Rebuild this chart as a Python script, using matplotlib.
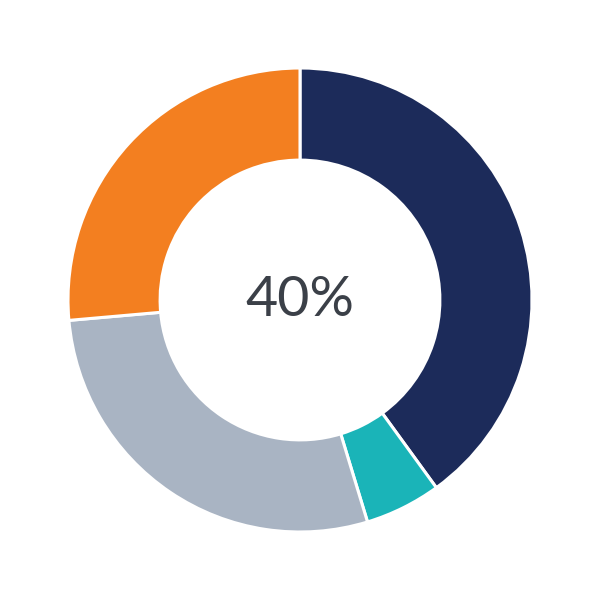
import matplotlib
matplotlib.use("Agg")
import matplotlib.pyplot as plt

labels = ["Navy", "Teal", "Gray", "Orange"]
values = [40, 5.3, 28.3, 26.4]
colors = ["#1c2b5a", "#1ab4b8", "#a9b4c3", "#f37f20"]
center_text = "40%"

fig = plt.figure(figsize=(6, 6), dpi=100)
ax = fig.add_axes([0, 0, 1, 1])
ax.pie(values, colors=colors, startangle=90, counterclock=False,
       radius=1.0,
       wedgeprops=dict(width=0.397, edgecolor="white", linewidth=2.2))
ax.text(0, 0, center_text, ha="center", va="center", fontsize=40,
        family="Lato", weight="normal", color="#3b4048")
lim = 300 / 232
ax.set_xlim(-lim, lim)
ax.set_ylim(-lim, lim)
ax.set_aspect("equal")
ax.axis("off")
fig.savefig("out.png", dpi=100, facecolor="white")
